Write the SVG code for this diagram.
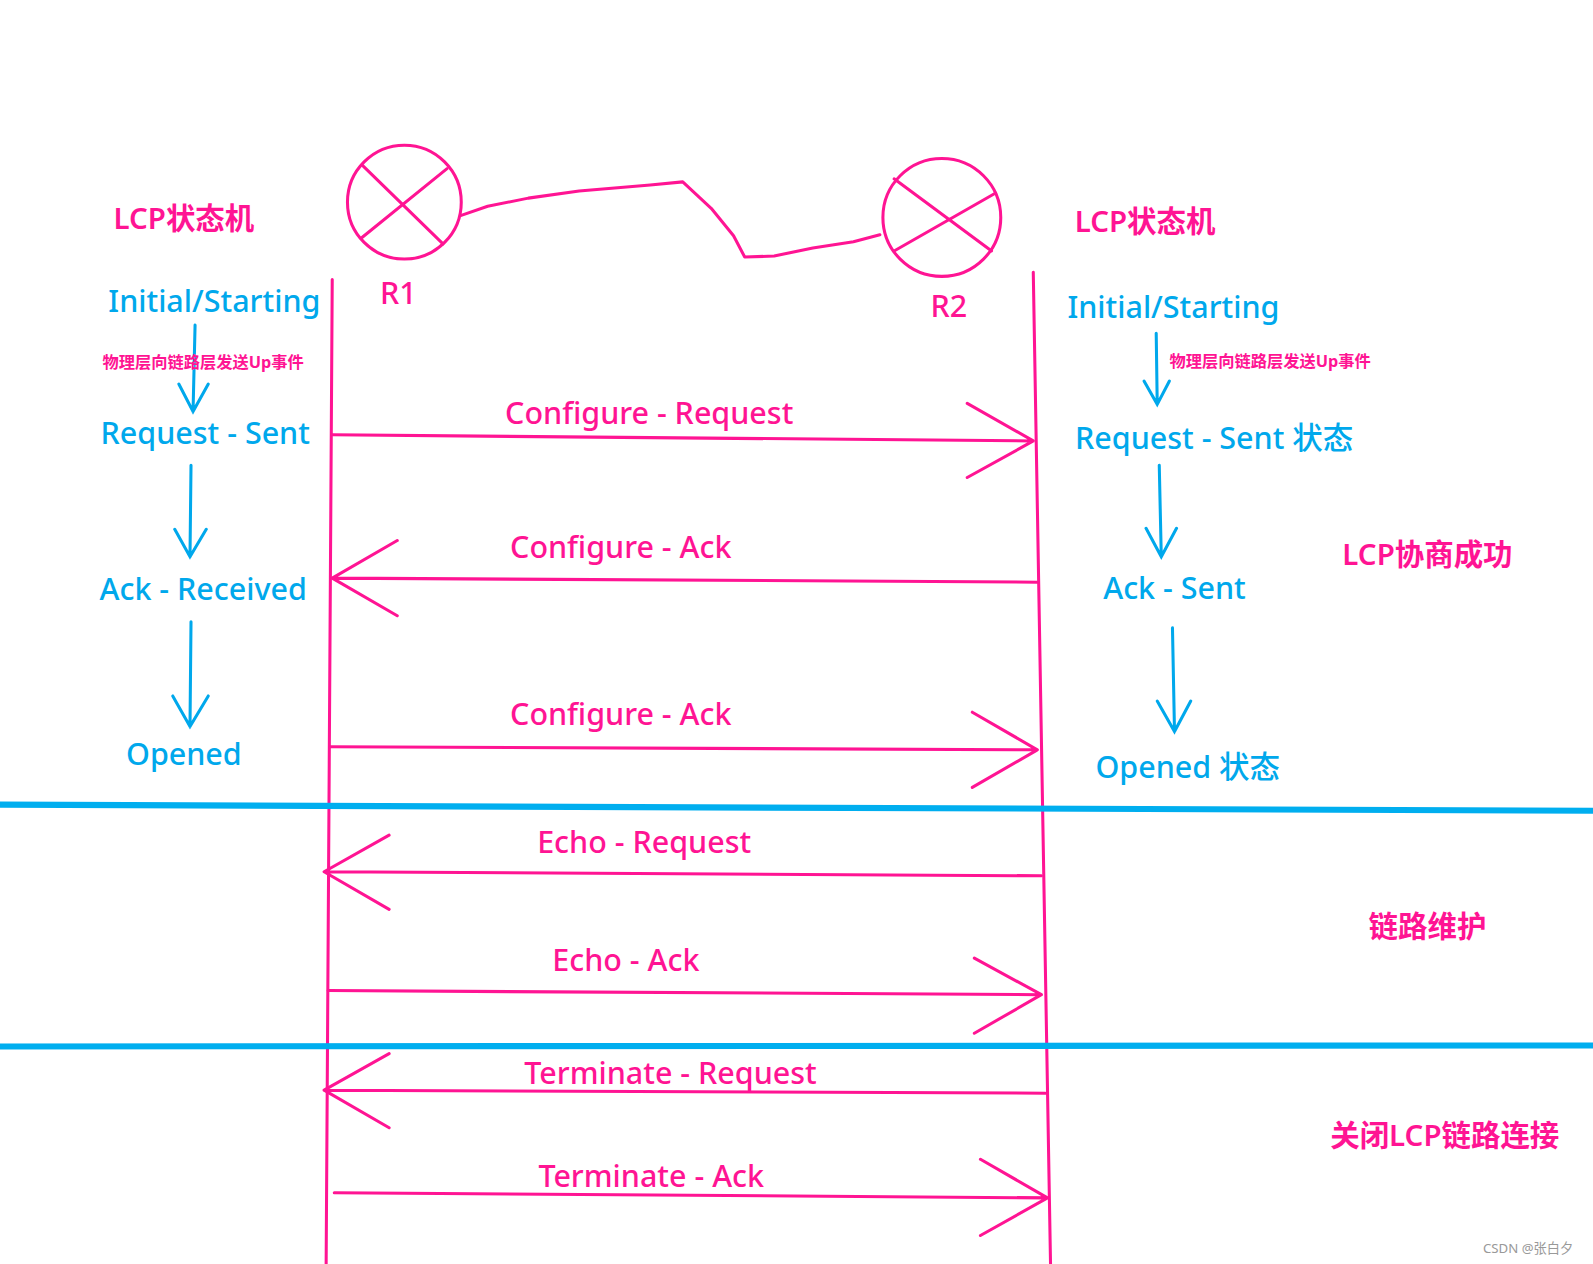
<svg xmlns="http://www.w3.org/2000/svg" width="1593" height="1264" viewBox="0 0 1593 1264">
<style>
.p{stroke:#ff1493;stroke-width:3;fill:none;stroke-linecap:round;stroke-linejoin:round}
.b{stroke:#00a8ec;stroke-width:3;fill:none;stroke-linecap:round}
.sep{stroke:#00aeef;stroke-width:6}
text{font-family:"Noto Sans","Noto Sans CJK SC",sans-serif;text-anchor:middle}
.lp{fill:#ff1493;font-size:30px;font-weight:500}
.lb{fill:#00a8ec;font-size:30px;font-weight:500}
.cn{fill:#ff1493;font-size:29px;font-weight:600}
</style>
<rect width="1593" height="1264" fill="#fff"/>
<g transform="scale(1.016)">
<g id="r1"><circle class="p" cx="398" cy="199" r="56"/><path class="p" d="M357,163 L436,240 M440,166 L356,234"/><text class="lp" x="392" y="299">R1</text></g>
<g id="r2"><circle class="p" cx="927" cy="214" r="58"/><path class="p" d="M880,176 L976,247 M980,190 L880,247"/><text class="lp" x="934" y="312">R2</text></g>
<g id="link"><path class="p" d="M454,212 L480,203 L520,195 L570,188 L640,182 L672,179 L700,205 L722,232 L733,253 L762,252 L800,244 L840,238 L866,231"/></g>
<g id="lifelines"><path class="p" d="M327,275 L321,1245"/><path class="p" d="M1017,268 L1034,1245"/></g>
<g id="separators"><path class="sep" d="M0,792 L1568,798"/><path class="sep" d="M0,1030 L1568,1029"/></g>
<g id="connectors">
<path class="p" d="M327,428 L1017,434 M952,397 L1017,434 L952,470"/>
<path class="p" d="M1021,573 L327,569 M391,532 L327,569 L391,606"/>
<path class="p" d="M325,735 L1021,738 M957,701 L1021,738 L957,775"/>
<path class="p" d="M1025,862 L319,858 M383,822 L319,858 L383,895"/>
<path class="p" d="M323,975 L1025,979 M959,943 L1025,979 L959,1017"/>
<path class="p" d="M1029,1076 L319,1073 M383,1037 L319,1073 L383,1110"/>
<path class="p" d="M329,1174 L1031,1179 M965,1141 L1031,1179 L965,1216"/>
<path class="b" d="M192,320 L190,405 M176,378 L190,405 L205,378"/>
<path class="b" d="M188,458 L187,548 M172,521 L187,548 L203,521"/>
<path class="b" d="M188,612 L187,715 M170,685 L187,715 L205,685"/>
<path class="b" d="M1138,328 L1139,398 M1126,375 L1139,398 L1151,375"/>
<path class="b" d="M1141,458 L1143,548 M1128,520 L1143,548 L1158,520"/>
<path class="b" d="M1154,618 L1156,720 M1139,690 L1156,720 L1172,690"/>
</g>
<g id="labels">
<text class="lp" x="639" y="417">Configure - Request</text>
<text class="lp" x="611" y="549">Configure - Ack</text>
<text class="lp" x="611" y="714">Configure - Ack</text>
<text class="lp" x="634" y="840">Echo - Request</text>
<text class="lp" x="616" y="956">Echo - Ack</text>
<text class="lp" x="660" y="1067">Terminate - Request</text>
<text class="lp" x="641" y="1168">Terminate - Ack</text>
</g>
<g id="left">
<text class="cn" x="181" y="225">LCP状态机</text>
<text class="lb" x="211" y="307">Initial/Starting</text>
<text x="200" y="362" style="fill:#ff1493;font-size:16px;font-weight:bold">物理层向链路层发送Up事件</text>
<text class="lb" x="202" y="437">Request - Sent</text>
<text class="lb" x="200" y="591">Ack - Received</text>
<text class="lb" x="181" y="753">Opened</text>
</g>
<g id="right">
<text class="cn" x="1127" y="228">LCP状态机</text>
<text class="lb" x="1155" y="313">Initial/Starting</text>
<text x="1151" y="361" style="fill:#ff1493;font-size:16px;font-weight:bold;text-anchor:start">物理层向链路层发送Up事件</text>
<text class="lb" x="1195" y="442">Request - Sent 状态</text>
<text class="lb" x="1156" y="590">Ack - Sent</text>
<text class="lb" x="1169" y="766">Opened 状态</text>
<text class="cn" x="1405" y="556">LCP协商成功</text>
<text class="cn" x="1405" y="922">链路维护</text>
<text class="cn" x="1422" y="1128">关闭LCP链路连接</text>
<text x="1504" y="1233" style="fill:#999;font-size:13px">CSDN @张白夕</text>
</g>
</g>
</svg>
